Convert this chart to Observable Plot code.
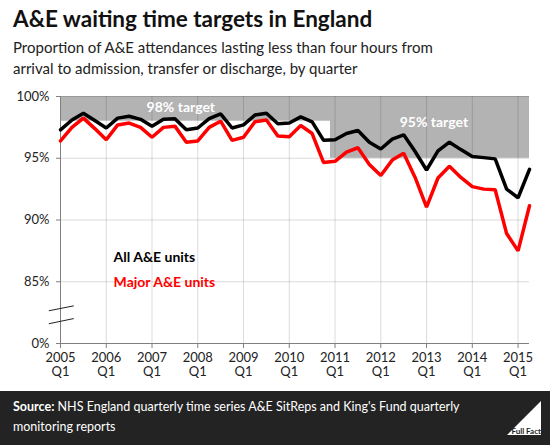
<!DOCTYPE html>
<html>
<head>
<meta charset="utf-8">
<script src="https://cdn.jsdelivr.net/npm/d3@7"></script>
<script src="https://cdn.jsdelivr.net/npm/@observablehq/plot@0.6"></script>
<style>
  html, body { margin: 0; padding: 0; background: #fff; }
  body { width: 550px; height: 445px; overflow: hidden; position: relative; font-family: Lato, "Open Sans", sans-serif; }
  #title { position: absolute; left: 13px; top: 5px; font-size: 22.5px; font-weight: 700; color: #111; white-space: nowrap; }
  #subtitle { position: absolute; left: 13px; top: 37px; font-size: 15px; line-height: 21px; color: #222; }
  #chart { position: absolute; left: 0; top: 84px; }
  #footer { position: absolute; left: 0; top: 391px; width: 550px; height: 54px; background: #232323; color: #fff; }
  #source { position: absolute; left: 13px; top: 6px; font-size: 12.5px; line-height: 20px; width: 470px; }
  #logo { position: absolute; right: 8px; top: 10px; }
</style>
</head>
<body>
<div id="title">A&amp;E waiting time targets in England</div>
<div id="subtitle">Proportion of A&amp;E attendances lasting less than four hours from<br>arrival to admission, transfer or discharge, by quarter</div>
<div id="chart"></div>
<div id="footer">
  <div id="source"><b>Source:</b> NHS England quarterly time series A&amp;E SitReps and King's Fund quarterly monitoring reports</div>
  <svg id="logo" width="36" height="36" viewBox="0 0 36 36">
    <polygon points="35,0 35,34 1,34" fill="#fff"></polygon>
    <text x="35" y="33" text-anchor="end" font-size="8" font-weight="700" fill="#232323" font-family="Lato, sans-serif">Full Fact</text>
  </svg>
</div>
<script>
// ---- data ----
const startYear = 2005;
const quarterCount = 42; // 2005 Q1 .. 2015 Q2
const allUnits = [97.3, 98.1, 98.65, 98.05, 97.45, 98.25, 98.4, 98.15, 97.6, 98.15,
                  98.2, 97.3, 97.45, 98.2, 98.6, 97.45, 97.7, 98.5, 98.65, 97.8,
                  97.85, 98.35, 97.95, 96.45, 96.5, 97.0, 97.25, 96.3, 95.75, 96.55,
                  96.9, 95.55, 94.05, 95.6, 96.3, 95.7, 95.15, 95.05, 94.95, 92.5,
                  91.8, 94.1];
const majorUnits = [96.4, 97.5, 98.25, 97.4, 96.5, 97.7, 97.85, 97.5, 96.7, 97.5,
                    97.6, 96.3, 96.4, 97.5, 98.0, 96.45, 96.7, 97.95, 98.1, 96.8,
                    96.75, 97.65, 97.0, 94.65, 94.75, 95.5, 95.85, 94.5, 93.6, 94.85,
                    95.4, 93.45, 91.05, 93.4, 94.35, 93.45, 92.7, 92.5, 92.45, 88.9,
                    87.5, 91.15];
const targetStart = [2005, 2010.9];
const targetEnd = [2010.9, 2015.25];
const targetLevel = [98, 95];
const targetLabels = ["98% target", "95% target"];
const targetLabelX = [2007.63, 2013.16];
const targetLabelY = [99.08, 97.9];
const yearTicks = [2005, 2006, 2007, 2008, 2009, 2010, 2011, 2012, 2013, 2014, 2015];
const yTicks = [80, 85, 90, 95, 100];
const yTickLabels = ["0%", "85%", "90%", "95%", "100%"];
const seriesNames = ["All A&E units", "Major A&E units"];
const seriesColors = ["#000000", "#ff0000"];
const legendX = [2006.16, 2006.16];
const legendY = [86.95, 84.95];
// axis-break marks (data units)
const breakX1 = [2004.745, 2004.745];
const breakX2 = [2005.29, 2005.29];
const breakY1 = [82.65, 81.6];
const breakY2 = [83.05, 82.02];

// ---- build tables ----
const rows = [];
for (let i = 0; i < quarterCount; i++) {
  const t = startYear + i / 4;
  rows.push({t, v: allUnits[i], s: seriesNames[0]});
  rows.push({t, v: majorUnits[i], s: seriesNames[1]});
}
const targets = targetLevel.map((lvl, i) => ({x1: targetStart[i], x2: targetEnd[i], y1: lvl, y2: 100, label: targetLabels[i], lx: targetLabelX[i], ly: targetLabelY[i]}));
const legend = seriesNames.map((n, i) => ({n, x: legendX[i], y: legendY[i], c: seriesColors[i]}));
const breaks = breakX1.map((d, i) => ({x1: breakX1[i], x2: breakX2[i], y1: breakY1[i], y2: breakY2[i]}));

const FONT = "Lato, 'Open Sans', sans-serif";
const chart = Plot.plot({
  width: 550,
  height: 305,
  marginTop: 12,
  marginBottom: 46,
  marginLeft: 60,
  marginRight: 21,
  style: {fontFamily: FONT, fontSize: "13px", color: "#222", background: "transparent", overflow: "visible"},
  x: {domain: [2005, 2015.25], label: null},
  y: {domain: [80, 100], label: null},
  color: {domain: seriesNames, range: seriesColors},
  marks: [
    Plot.rect(targets, {x1: "x1", x2: "x2", y1: "y1", y2: "y2", fill: "#b3b3b3"}),
    Plot.gridX(yearTicks, {stroke: "#000", strokeOpacity: 0.14}),
    Plot.gridY([85, 90, 95, 100], {stroke: "#000", strokeOpacity: 0.14}),
    Plot.text(targets, {x: "lx", y: "ly", text: "label", fill: "#fff", fontWeight: 700, fontSize: 14}),
    Plot.ruleX([2005], {stroke: "#7f7f7f"}),
    Plot.ruleY([80], {stroke: "#7f7f7f"}),
    Plot.axisY({ticks: yTicks, tickFormat: (d) => yTickLabels[yTicks.indexOf(d)], tickSize: 4, tickPadding: 7, stroke: "#7f7f7f", fill: "#222", fontSize: 13, label: null}),
    Plot.axisX({ticks: yearTicks, tickFormat: (d) => `${d}\nQ1`, tickSize: 5, tickPadding: 3, stroke: "#7f7f7f", fill: "#222", fontSize: 13, lineHeight: 1.1, label: null}),
    Plot.link(breaks, {x1: "x1", x2: "x2", y1: "y1", y2: "y2", stroke: "#222", strokeWidth: 1}),
    Plot.line(rows, {x: "t", y: "v", stroke: "s", z: "s", strokeWidth: 3.5, strokeLinejoin: "miter"}),
    Plot.text(legend, {x: "x", y: "y", text: "n", fill: "c", textAnchor: "start", fontWeight: 700, fontSize: 14})
  ]
});
document.getElementById("chart").appendChild(chart);
</script>
</body>
</html>
